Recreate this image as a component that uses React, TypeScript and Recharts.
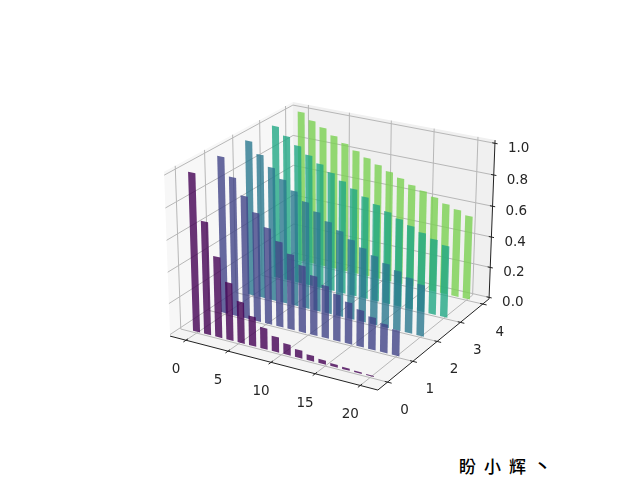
import { Scatter, ScatterChart, XAxis, YAxis } from "recharts";

const W = 640;
const H = 490;

// bar positions along x, one series per y plane
const xs = [0, 1.33, 2.67, 4, 5.33, 6.67, 8, 9.33, 10.67, 12, 13.33, 14.67, 16, 17.33, 18.67, 20];
const planes = [0, 1, 2, 3, 4];
const colors = ["#440154", "#414487", "#2a788e", "#22a884", "#7ad151"];
const series0 = [1, 0.716, 0.513, 0.368, 0.264, 0.189, 0.135, 0.097, 0.069, 0.05, 0.036, 0.026, 0.018, 0.013, 0.009, 0.007];
const series1 = [1, 0.886, 0.785, 0.695, 0.616, 0.546, 0.483, 0.428, 0.38, 0.336, 0.298, 0.264, 0.234, 0.207, 0.183, 0.163];
const series2 = [1, 0.929, 0.862, 0.801, 0.743, 0.69, 0.641, 0.595, 0.553, 0.513, 0.477, 0.443, 0.411, 0.382, 0.354, 0.329];
const series3 = [1, 0.95, 0.903, 0.857, 0.815, 0.774, 0.735, 0.699, 0.664, 0.63, 0.599, 0.569, 0.541, 0.513, 0.488, 0.463];
const series4 = [1, 0.957, 0.925, 0.886, 0.851, 0.817, 0.785, 0.755, 0.725, 0.697, 0.668, 0.645, 0.62, 0.592, 0.57, 0.545];
const allSeries = [series0, series1, series2, series3, series4];

const xTicks = [0, 5, 10, 15, 20];
const yTicks = [0, 1, 2, 3, 4];
const zTicks = [0, 0.2, 0.4, 0.6, 0.8, 1];

const barWidth = 0.85;

// outer limits of the panes
const x0 = -1.92;
const x1 = 21.92;
const y0 = -0.37;
const y1 = 4.29;
const z0 = -0.01;
const z1 = 1.02;

// camera calibration: visible corners of the unit box -> where they sit in the picture
type P3 = [number, number, number];
const calibration: [P3, number, number][] = [
  [[0, 0, 0], 170, 336],
  [[1, 0, 0], 378, 390],
  [[1, 1, 0], 489, 299],
  [[0, 0, 1], 164, 172],
  [[0, 1, 1], 293, 102],
  [[1, 1, 1], 495, 140],
];

// least squares for the 3x4 camera matrix (last entry fixed to 1)
const solveCamera = () => {
  const rows: number[][] = [];
  const rhs: number[] = [];
  calibration.forEach(([p, px, py]) => {
    rows.push([p[0], p[1], p[2], 1, 0, 0, 0, 0, -px * p[0], -px * p[1], -px * p[2]]);
    rhs.push(px);
    rows.push([0, 0, 0, 0, p[0], p[1], p[2], 1, -py * p[0], -py * p[1], -py * p[2]]);
    rhs.push(py);
  });
  const n = 11;
  const m = Array.from({ length: n }, (_, i) => [
    ...Array.from({ length: n }, (_, j) => rows.reduce((s, r) => s + r[i] * r[j], 0)),
    rows.reduce((s, r, k) => s + r[i] * rhs[k], 0),
  ]);
  for (let c = 0; c < n; c++) {
    let best = c;
    for (let r = c + 1; r < n; r++) if (Math.abs(m[r][c]) > Math.abs(m[best][c])) best = r;
    [m[c], m[best]] = [m[best], m[c]];
    for (let r = 0; r < n; r++) {
      if (r === c) continue;
      const f = m[r][c] / m[c][c];
      for (let j = c; j <= n; j++) m[r][j] -= f * m[c][j];
    }
  }
  return m.map((r, i) => r[n] / r[i]);
};
const cam = solveCamera();

const project = (x: number, y: number, z: number) => {
  const a = (x - x0) / (x1 - x0);
  const b = (y - y0) / (y1 - y0);
  const c = (z - z0) / (z1 - z0);
  const d = cam[8] * a + cam[9] * b + cam[10] * c + 1;
  return {
    u: (cam[0] * a + cam[1] * b + cam[2] * c + cam[3]) / d,
    v: (cam[4] * a + cam[5] * b + cam[6] * c + cam[7]) / d,
  };
};

const mark = (pts: P3[]) => {
  const proj = pts.map((p) => project(p[0], p[1], p[2]));
  return { u: proj[0].u, v: proj[0].v, proj };
};

// the rest of a mark hangs off its anchor point, which the scatter places through the axes
const pathOf = (props: any, close: boolean) => {
  const { cx, cy, payload } = props;
  const first = payload.proj[0];
  const d = payload.proj
    .map((p: any, i: number) => `${i ? "L" : "M"}${cx + p.u - first.u} ${cy + p.v - first.v}`)
    .join("");
  return close ? d + "Z" : d;
};

const polyShape = (fill: string, opacity = 1) => (props: any) => (
  <path d={pathOf(props, true)} fill={fill} fillOpacity={opacity} stroke="none" />
);
const lineShape = (stroke: string, width: number) => (props: any) => (
  <path d={pathOf(props, false)} fill="none" stroke={stroke} strokeWidth={width} />
);

const paneLeft = [mark([[x0, y0, z0], [x0, y1, z0], [x0, y1, z1], [x0, y0, z1]])];
const paneBack = [mark([[x0, y1, z0], [x1, y1, z0], [x1, y1, z1], [x0, y1, z1]])];
const paneFloor = [mark([[x0, y0, z0], [x1, y0, z0], [x1, y1, z0], [x0, y1, z0]])];

const gridRows = [
  ...xTicks.map((t) => mark([[t, y0, z0], [t, y1, z0], [t, y1, z1]])),
  ...yTicks.map((t) => mark([[x1, t, z0], [x0, t, z0], [x0, t, z1]])),
  ...zTicks.map((t) => mark([[x0, y0, t], [x0, y1, t], [x1, y1, t]])),
];

const axisRows = [
  mark([[x0, y0, z0], [x1, y0, z0]]),
  mark([[x1, y0, z0], [x1, y1, z0]]),
  mark([[x1, y1, z0], [x1, y1, z1]]),
  ...xTicks.map((t) => mark([[t, y0 - 0.09, z0], [t, y0 + 0.07, z0]])),
  ...yTicks.map((t) => mark([[x1 - 0.3, t, z0], [x1 + 0.45, t, z0]])),
  ...zTicks.map((t) => mark([[x1 - 0.3, y1, t], [x1 + 0.3, y1, t]])),
];

const barRows = (k: number) =>
  xs.map((x, i) =>
    mark([
      [x - barWidth / 2, planes[k], 0],
      [x + barWidth / 2, planes[k], 0],
      [x + barWidth / 2, planes[k], allSeries[k][i]],
      [x - barWidth / 2, planes[k], allSeries[k][i]],
    ]),
  );

const labelShape = (off: number[], anchor: string) => (props: any) => (
  <text
    x={props.cx + off[0]}
    y={props.cy + off[1]}
    textAnchor={anchor}
    dominantBaseline="central"
    fontFamily="DejaVu Sans"
    fontSize={13.5}
    fill="#262626"
  >
    {props.payload.text}
  </text>
);

const xLabels = xTicks.map((t) => ({ ...project(t, y0, z0), text: String(t) }));
const yLabels = yTicks.map((t) => ({ ...project(x1, t, z0), text: String(t) }));
const zLabels = zTicks.map((t) => ({ ...project(x1, y1, t), text: t.toFixed(1) }));

export default function App() {
  const order = [...planes].reverse();
  return (
    <div style={{ position: "absolute", left: 0, top: 0, width: W, height: H, background: "#fff" }}>
      <div style={{ filter: "blur(0.45px)" }}>
        <ScatterChart width={W} height={H} margin={{ top: 0, right: 0, bottom: 0, left: 0 }}>
          <XAxis type="number" dataKey="u" domain={[0, W]} hide allowDataOverflow />
          <YAxis type="number" dataKey="v" domain={[0, H]} reversed hide allowDataOverflow />
          <Scatter data={paneLeft} shape={polyShape("#f7f7f7")} isAnimationActive={false} />
          <Scatter data={paneBack} shape={polyShape("#f0f0f0")} isAnimationActive={false} />
          <Scatter data={paneFloor} shape={polyShape("#f4f4f4")} isAnimationActive={false} />
          <Scatter data={gridRows} shape={lineShape("#b7b7b7", 1)} isAnimationActive={false} />
          <Scatter data={axisRows} shape={lineShape("#222222", 1)} isAnimationActive={false} />
          {order.map((k) => (
            <Scatter key={k} data={barRows(k)} shape={polyShape(colors[k], 0.8)} isAnimationActive={false} />
          ))}
          <Scatter data={xLabels} shape={labelShape([-10, 28], "middle")} isAnimationActive={false} />
          <Scatter data={yLabels} shape={labelShape([17, 27], "middle")} isAnimationActive={false} />
          <Scatter data={zLabels} shape={labelShape([13, 4], "start")} isAnimationActive={false} />
        </ScatterChart>
      </div>
      <div
        style={{
          position: "absolute",
          left: 459,
          top: 453,
          fontFamily: "'Noto Sans CJK TC'",
          fontWeight: 500,
          fontSize: 17,
          letterSpacing: 8,
          color: "#000",
          whiteSpace: "nowrap",
        }}
      >
        盼小辉丶
      </div>
    </div>
  );
}
